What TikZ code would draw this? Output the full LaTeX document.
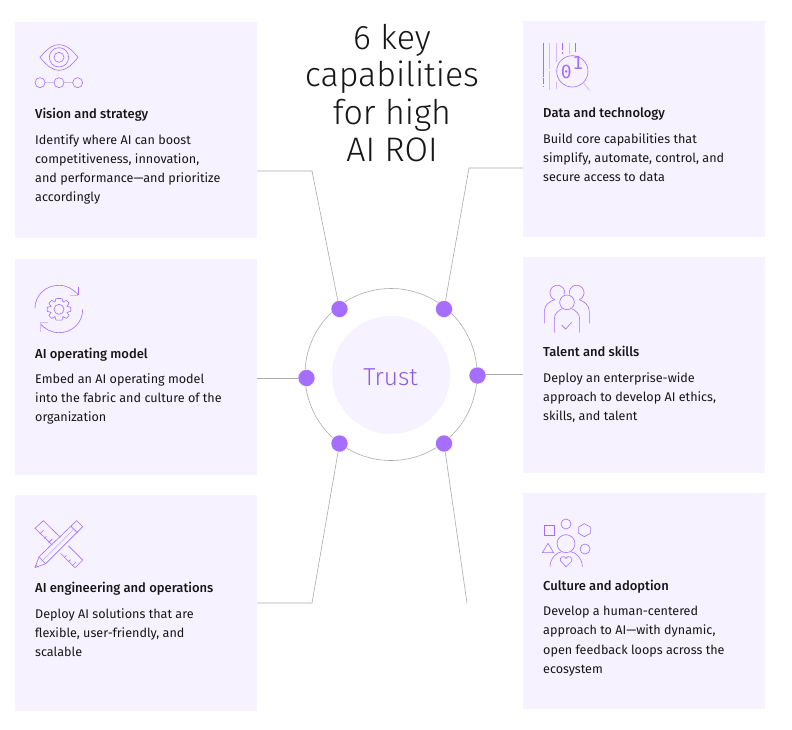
\documentclass[tikz,border=0pt]{standalone}
\usepackage{fontspec}
\setmainfont{Fira Sans}
\newfontfamily\lightf{Fira Sans Light}
\newfontfamily\semif{Fira Sans Medium}
\newfontfamily\monof{DejaVu Sans Mono}
\definecolor{cardbg}{HTML}{F6F2FF}
\definecolor{vio}{HTML}{A56EFF}
\definecolor{vioL}{HTML}{D4BBFF}
\definecolor{ink}{HTML}{161616}
\definecolor{wire}{HTML}{ABABAB}
\usetikzlibrary{calc}
\tikzset{
 card/.style={fill=cardbg,draw=none,minimum width=242pt,minimum height=216pt,inner sep=0pt,anchor=north west},
 head/.style={font=\semif\fontsize{13}{15}\selectfont,text=ink,anchor=base west,inner sep=0pt},
 body/.style={font=\fontsize{12.6}{19.2}\selectfont,text=ink,anchor=north west,inner sep=0pt,align=left},
 wireline/.style={draw=wire,line width=0.6pt},
 dotn/.style={circle,fill=vio,draw=white,line width=0.4pt,minimum size=17pt,inner sep=0pt},
 ico/.style={draw=vio,line width=0.6pt,fill=none},
 icol/.style={draw=vioL,line width=0.8pt,fill=none},
 zoomed/.style={x=0.33333pt,y=-0.33333pt},
}
\begin{document}
\begin{tikzpicture}[x=1pt,y=-1pt]
\useasboundingbox (0,0) rectangle (792,729);
% cards
\node[card] (cL1) at (15,22) {};
\node[card] (cL2) at (15,259) {};
\node[card] (cL3) at (15,495) {};
\node[card] (cR1) at (523,21) {};
\node[card] (cR2) at (523,257) {};
\node[card] (cR3) at (523,493) {};
% title
\node[font=\lightf\fontsize{34}{37.5}\selectfont,text=ink,align=center,anchor=north,inner sep=0pt] (title) at (392,24) {6 key\\capabilities\\for high\\AI ROI};
% centre
\node[circle,draw=wire,line width=0.6pt,minimum size=172pt,inner sep=0pt] (ring) at (391,374.5) {};
\node[circle,fill=cardbg,minimum size=118pt,inner sep=0pt] (core) at (391,375) {};
\node[text=vio!85!black,font=\lightf\fontsize{24.5}{30}\selectfont,inner sep=0pt] (trust) at (390.5,377) {Trust};
\node[dotn] (d1) at (339.5,309) {};
\node[dotn] (d2) at (444,309) {};
\node[dotn] (d3) at (306.5,378) {};
\node[dotn] (d4) at (477.5,375.5) {};
\node[dotn] (d5) at (339.5,443.5) {};
\node[dotn] (d6) at (444,443.5) {};
% connectors
\coordinate (k1) at (312,171);
\coordinate (k2) at (469,168);
\coordinate (k4) at (486,374);
\coordinate (k5) at (312,603);
\coordinate (k6) at (467,603);
\draw[wireline] (cL1.east |- k1) -- (k1) -- (d1);
\draw[wireline] (cR1.west |- k2) -- (k2) -- (d2);
\draw[wireline] (cL2.east |- d3) -- (d3);
\draw[wireline] (cR2.west |- k4) -- (d4.east |- k4);
\draw[wireline] (cL3.east |- k5) -- (k5) -- (d5);
\draw[wireline] (d6) -- (k6);
% texts
\node[head] (h1) at (35,118) {Vision and strategy};
\node[body] (b1) at (35,134) {Identify where AI can boost\\competitiveness, innovation,\\and performance—and prioritize\\accordingly};
\node[head] (h2) at (35,358) {AI operating model};
\node[body] (b2) at (35,373) {Embed an AI operating model\\into the fabric and culture of the\\organization};
\node[head] (h3) at (35,592) {AI engineering and operations};
\node[body] (b3) at (35,608) {Deploy AI solutions that are\\flexible, user-friendly, and\\scalable};
\node[head] (h4) at (543,117) {Data and technology};
\node[body] (b4) at (543,133) {Build core capabilities that\\simplify, automate, control, and\\secure access to data};
\node[head] (h5) at (543,356) {Talent and skills};
\node[body] (b5) at (543,372) {Deploy an enterprise-wide\\approach to develop AI ethics,\\skills, and talent};
\node[head] (h6) at (543,590) {Culture and adoption};
\node[body] (b6) at (543,606) {Develop a human-centered\\approach to AI—with dynamic,\\open feedback loops across the\\ecosystem};
% eye icon
\begin{scope}[shift={(15,20)},zoomed]
 \draw[ico] (75,112) .. controls (100,82) and (115,74) .. (132,74) .. controls (149,74) and (165,82) .. (189,112) .. controls (165,142) and (149,151) .. (132,151) .. controls (115,151) and (100,142) .. (75,112) -- cycle;
 \draw[ico] (132,112) circle [radius=29];
 \draw[ico] (132,112) circle [radius=15];
 \draw[icol] (90,188) -- (117,188) (147,188) -- (174,188);
 \draw[ico] (75,188) circle [radius=15];
 \draw[ico] (132,188) circle [radius=15];
 \draw[ico] (188,188) circle [radius=15];
\end{scope}
% data icon
\begin{scope}[shift={(525,20)},zoomed]
 \draw[ico,dash pattern=on 34pt off 1.5pt on 6pt off 1.5pt on 6pt] (55,68) -- (55,198);
 \draw[icol,dash pattern=on 26pt off 2pt on 20pt] (73,68) -- (73,210);
 \draw[icol] (93,68) -- (93,125) (93,185) -- (93,207);
 \draw[ico] (112,68) -- (112,90) (112,95) -- (112,102);
 \draw[icol] (132,68) -- (132,102);
 \draw[ico] (151,68) -- (151,95);
 \draw[ico] (142,154) circle [radius=47];
 \draw[icol] (175,188) -- (194,211);
 \node[text=vio,font=\monof\fontsize{18}{18}\selectfont,inner sep=0pt] (zero) at (124,155) {0};
 \node[text=vio,font=\monof\fontsize{18}{18}\selectfont,inner sep=0pt] (one) at (158,129) {1};
\end{scope}
% operating model icon
\begin{scope}[shift={(15,270)},zoomed]
 \draw[ico] (60,115) .. controls (60,75) and (92,46) .. (132,46) .. controls (155,46) and (175,57) .. (190,75);
 \draw[icol] (165,75) -- (190,75);
 \draw[ico] (190,75) -- (190,52);
 \draw[ico] (203,118) .. controls (203,158) and (172,188) .. (132,188) .. controls (109,188) and (89,177) .. (75,160);
 \draw[icol] (100,158) -- (75,158);
 \draw[icol] (75,158) -- (75,185);
 \draw[ico] plot[smooth cycle,tension=0.25] coordinates {
  (123,86)(141,86)(144,96)(154,91)(162,100)(156,109)(167,112)(167,124)(156,127)(162,136)(154,145)(144,140)(141,150)(123,150)(120,140)(110,145)(102,136)(108,127)(97,124)(97,112)(108,109)(102,100)(110,91)(120,96)};
 \draw[ico] (132,118) circle [radius=15];
\end{scope}
% talent icon
\begin{scope}[shift={(525,270)},zoomed]
 \draw[ico] plot[smooth,domain=110:372,samples=40] ({97+22*cos(\x)},{68+22*sin(\x)});
 \draw[ico] plot[smooth,domain=70:-192,samples=40] ({155+22*cos(\x)},{68+22*sin(\x)});
 \draw[ico] (126,97) circle [radius=22];
 \draw[ico] (58,160) -- (58,125) .. controls (58,105) and (72,95) .. (89.5,88.7);
 \draw[ico] (193,160) -- (193,125) .. controls (193,105) and (178,95) .. (162.5,88.7);
 \draw[ico] (88,188) -- (88,148) .. controls (88,130) and (100,122) .. (112,116);
 \draw[ico] (164,188) -- (164,148) .. controls (164,130) and (152,122) .. (140,116);
 \draw[ico] (110,165) -- (122,177) -- (140,157);
\end{scope}
% engineering icon
\begin{scope}[shift={(15,505)},zoomed]
 \draw[ico] (112,120) -- (60,70) -- (85,47) -- (136,97);
 \draw[ico] (160,122) -- (203,165) -- (180,188) -- (137,145);
 \draw[ico] (75,86) -- (86,75) (88,100) -- (94,94) (101,113) -- (112,102);
 \draw[ico] (148,157) -- (154,151) (161,170) -- (167,164) (172,182) -- (183,171);
 \draw[ico] (60,188) -- (72,155) -- (185,47) -- (203,65) -- (92,176) -- cycle;
 \draw[ico] (168,64) -- (187,83);
 \draw[icol] (82,167) -- (175,74);
 \draw[ico] (72,155) -- (82,167) -- (92,176);
 \draw[ico] (62,180) -- (70,186);
\end{scope}
% culture icon
\begin{scope}[shift={(525,505)},zoomed]
 \draw[ico] (57,61) rectangle (87,91);
 \draw[ico] (123,57) circle [radius=15];
 \draw[ico] (178,56) -- (196,66) -- (196,85) -- (178,95) -- (161,85) -- (161,66) -- cycle;
 \draw[ico] (52,143) -- (86,143) -- (69,115) -- cycle;
 \draw[ico] (123,116) circle [radius=27];
 \draw[ico] (180,132) circle [radius=15];
 \draw[ico] (75,185) .. controls (75,160) and (95,142) .. (110,140);
 \draw[ico] (172,185) .. controls (172,160) and (152,142) .. (137,140);
 \draw[ico] (123,185) -- (107,168) .. controls (100,158) and (118,148) .. (123,160) .. controls (128,148) and (146,158) .. (140,168) -- cycle;
\end{scope}
\end{tikzpicture}
\end{document}
